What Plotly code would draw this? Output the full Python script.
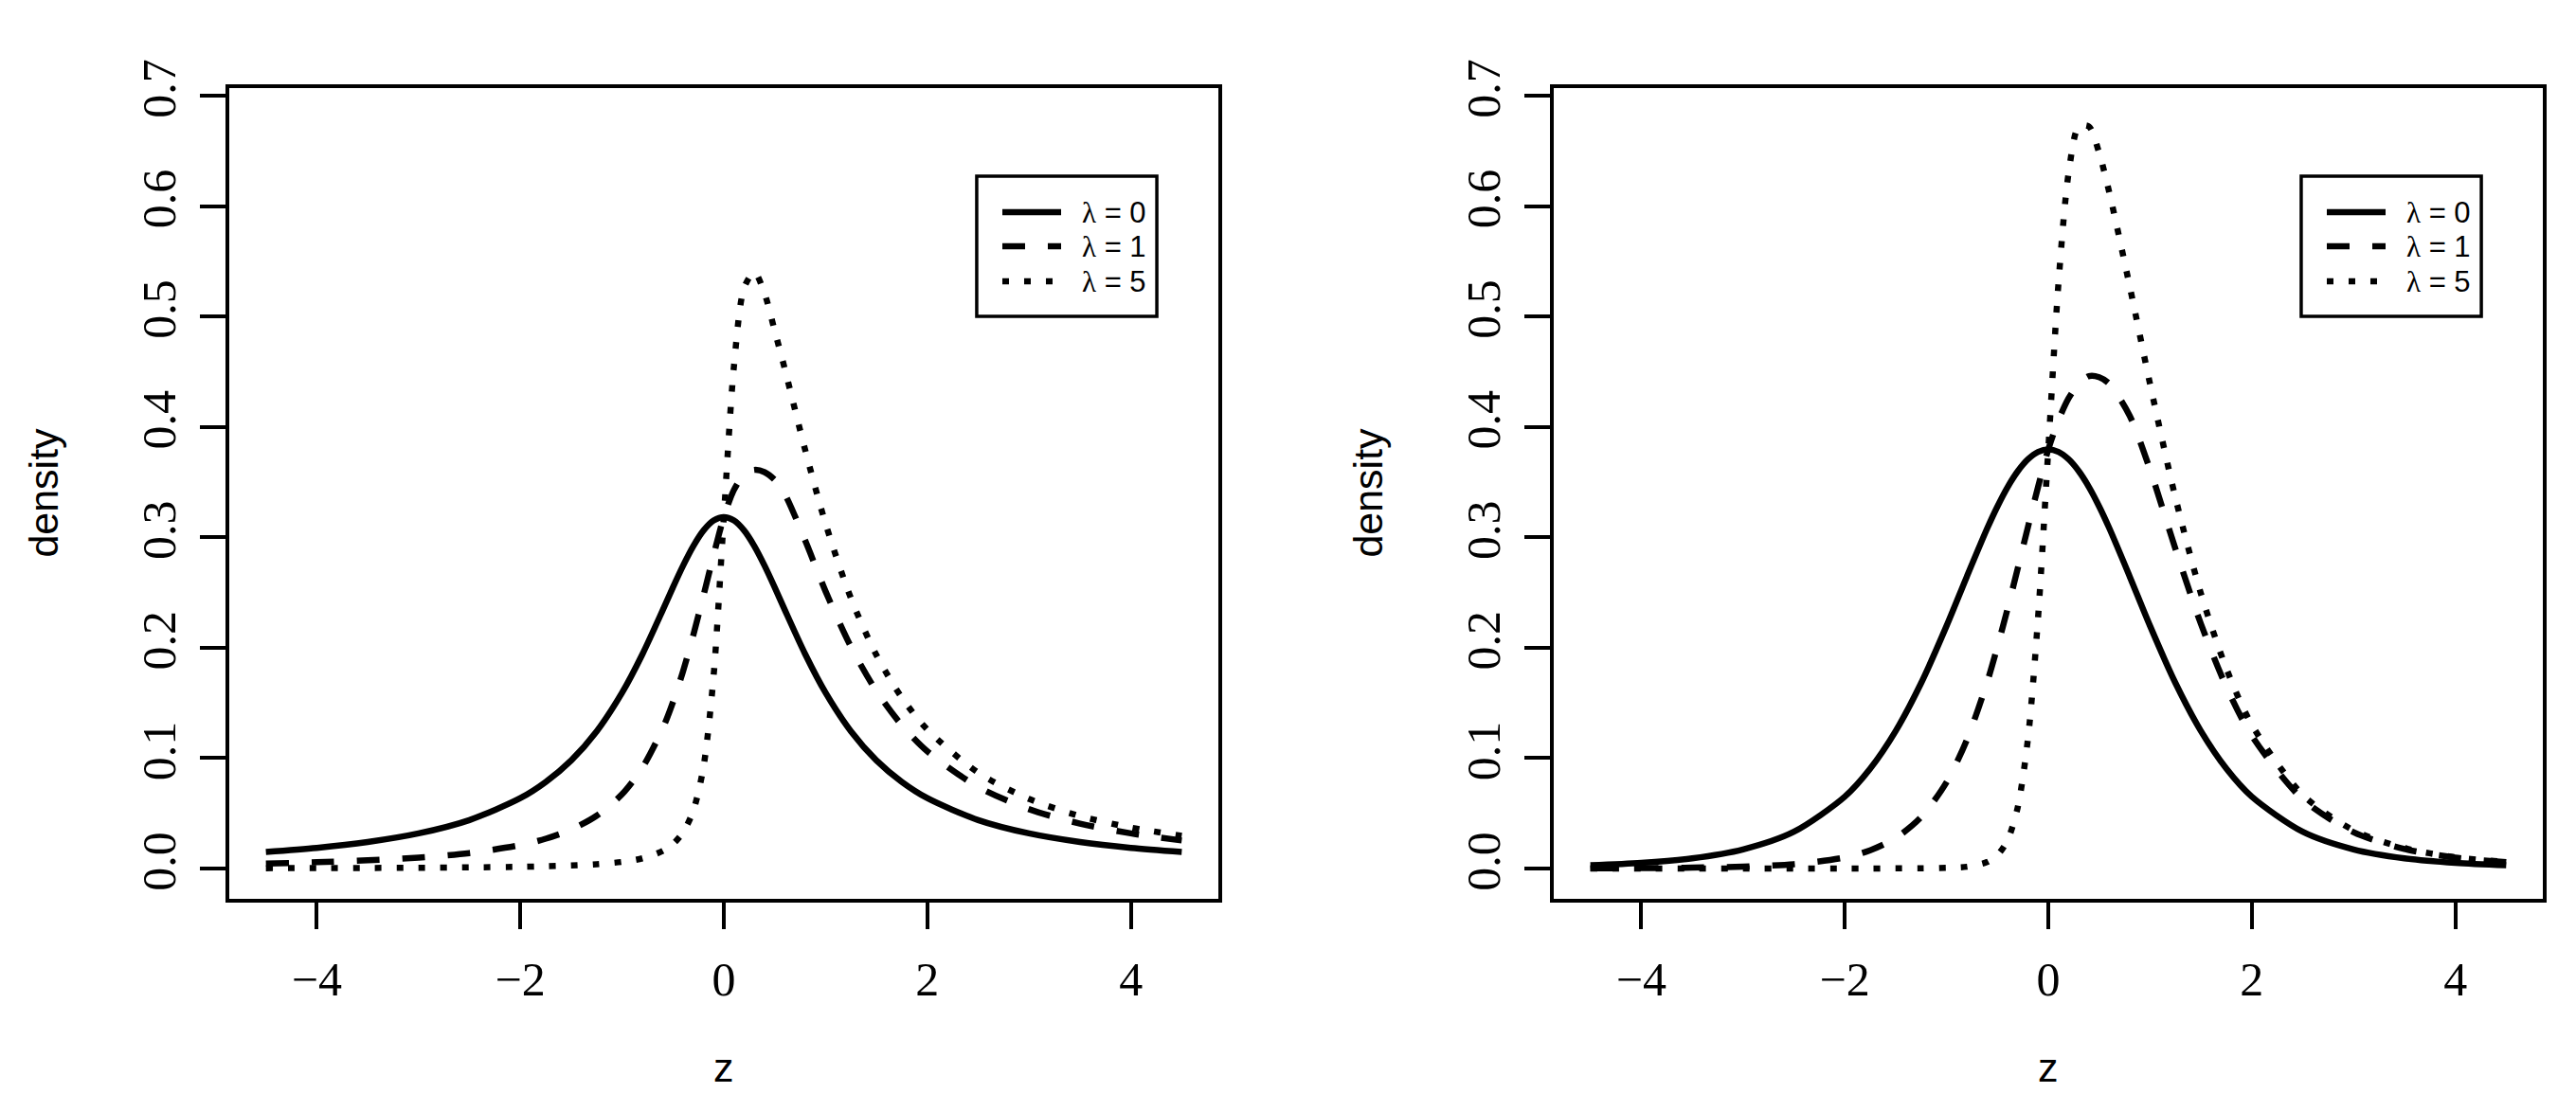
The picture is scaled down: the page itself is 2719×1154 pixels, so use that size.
import plotly.graph_objects as go

# ---------------- data ----------------
z = [-4.5, -4, -3.5, -3, -2.5, -2, -1.75, -1.5, -1.25, -1, -0.8, -0.6, -0.5, -0.4,
     -0.3, -0.2, -0.1, 0, 0.1, 0.2, 0.3, 0.4, 0.5, 0.6, 0.8, 1, 1.25, 1.5, 1.75,
     2, 2.5, 3, 3.5, 4, 4.5]

# left panel
left_l0 = [0.0150, 0.0187, 0.0240, 0.0318, 0.0439, 0.0637, 0.0784, 0.0979, 0.1242,
           0.1592, 0.1941, 0.2341, 0.2547, 0.2744, 0.2920, 0.3061, 0.3152, 0.3183,
           0.3152, 0.3061, 0.2920, 0.2744, 0.2547, 0.2341, 0.1941, 0.1592, 0.1242,
           0.0979, 0.0784, 0.0637, 0.0439, 0.0318, 0.0240, 0.0187, 0.0150]
left_l1 = [0.0045, 0.0057, 0.0074, 0.0099, 0.0140, 0.0212, 0.0270, 0.0353, 0.0478,
           0.0673, 0.0913, 0.1270, 0.1507, 0.1789, 0.2114, 0.2472, 0.2840, 0.3183,
           0.3430, 0.3570, 0.3610, 0.3590, 0.3520, 0.3390, 0.2969, 0.2510, 0.2007,
           0.1606, 0.1297, 0.1061, 0.0738, 0.0537, 0.0407, 0.0318, 0.0254]
left_l5 = [0.0003, 0.0004, 0.0005, 0.0007, 0.0010, 0.0015, 0.0020, 0.0027, 0.0039,
           0.0060, 0.0092, 0.0159, 0.0222, 0.0328, 0.0524, 0.0918, 0.1748, 0.3183,
           0.4555, 0.5260, 0.5400, 0.5210, 0.4871, 0.4522, 0.3789, 0.3123, 0.2446,
           0.1932, 0.1547, 0.1258, 0.0868, 0.0630, 0.0475, 0.0371, 0.0297]

# right panel
right_l0 = [0.0029, 0.0051, 0.0092, 0.0173, 0.0333, 0.0651, 0.0905, 0.1245, 0.1679,
            0.2197, 0.2645, 0.3081, 0.3279, 0.3454, 0.3598, 0.3706, 0.3773, 0.3796,
            0.3773, 0.3706, 0.3598, 0.3454, 0.3279, 0.3081, 0.2645, 0.2197, 0.1679,
            0.1245, 0.0905, 0.0651, 0.0333, 0.0173, 0.0092, 0.0051, 0.0029]
right_l1 = [0.0002, 0.0004, 0.0008, 0.0017, 0.0039, 0.0100, 0.0165, 0.0276, 0.0465,
            0.0782, 0.1166, 0.1691, 0.2008, 0.2353, 0.2719, 0.3093, 0.3458, 0.3796,
            0.4060, 0.4260, 0.4390, 0.4460, 0.4450, 0.4390, 0.4100, 0.3612, 0.2893,
            0.2215, 0.1646, 0.1202, 0.0627, 0.0329, 0.0177, 0.0099, 0.0057]
right_l5 = [0.0, 0.0, 0.0, 0.0, 0.0, 0.0, 0.0, 0.0001, 0.0002, 0.0006, 0.0016,
            0.0059, 0.0121, 0.0257, 0.0556, 0.1175, 0.2279, 0.3796, 0.5300, 0.6300,
            0.6720, 0.6720, 0.6480, 0.6120, 0.5274, 0.4388, 0.3356, 0.2490, 0.1811,
            0.1302, 0.0667, 0.0346, 0.0185, 0.0102, 0.0059]

legend_labels = ["0", "1", "5"]
x_ticks = [-4, -2, 0, 2, 4]
y_ticks = [0.0, 0.1, 0.2, 0.3, 0.4, 0.5, 0.6, 0.7]
y_tick_text = ["0.0", "0.1", "0.2", "0.3", "0.4", "0.5", "0.6", "0.7"]

# ---------------- layout geometry ----------------
W, H = 2719, 1154
BOX_TOP, BOX_BOT = 56, 935
LEFT_BOX = (234, 1278)
RIGHT_BOX = (1632, 2676)

LW = 6.5
DASHES = ["solid", "24px,24px", "7px,16px"]


def px_x(p):
    return p / W


def px_y(p):
    return 1 - p / H


fig = go.Figure()

panels = [
    ("x", "y", [left_l0, left_l1, left_l5]),
    ("x2", "y2", [right_l0, right_l1, right_l5]),
]
for xa, ya, series in panels:
    for vals, dash in zip(series, DASHES):
        fig.add_trace(go.Scatter(
            x=z, y=vals, xaxis=xa, yaxis=ya, mode="lines",
            line=dict(color="black", width=LW, dash=dash, shape="spline", smoothing=0.8),
            showlegend=False, hoverinfo="skip"))

tick_font = dict(family="Liberation Serif, Times New Roman, serif", size=50, color="black")
axis_common = dict(showgrid=False, zeroline=False, showline=True, mirror=True,
                   linecolor="black", linewidth=4, ticks="outside",
                   tickcolor="black", tickwidth=3.5, tickfont=tick_font)

xaxis_extra = dict(tickvals=x_ticks, ticklen=28, range=[-4.86, 4.86], ticklabelstandoff=10)
yaxis_extra = dict(tickvals=y_ticks, ticktext=y_tick_text, ticklen=27, tickangle=-90,
                   range=[-0.0272, 0.7072], ticklabelstandoff=6)

fig.update_layout(
    width=W, height=H, margin=dict(l=0, r=0, t=0, b=0),
    paper_bgcolor="white", plot_bgcolor="white",
    xaxis=dict(domain=[px_x(LEFT_BOX[0]), px_x(LEFT_BOX[1])], anchor="y",
               **xaxis_extra, **axis_common),
    yaxis=dict(domain=[px_y(BOX_BOT), px_y(BOX_TOP)], anchor="x",
               **yaxis_extra, **axis_common),
    xaxis2=dict(domain=[px_x(RIGHT_BOX[0]), px_x(RIGHT_BOX[1])], anchor="y2",
                **xaxis_extra, **axis_common),
    yaxis2=dict(domain=[px_y(BOX_BOT), px_y(BOX_TOP)], anchor="x2",
                **yaxis_extra, **axis_common),
)

title_font = dict(family="Liberation Sans, Arial, sans-serif", size=43, color="black")
shapes = []
annotations = []
for (bx0, bx1), xa, ya in [(LEFT_BOX, "x", "y"), (RIGHT_BOX, "x2", "y2")]:
    cx = (bx0 + bx1) / 2
    # axis titles
    annotations.append(dict(text="z", xref="paper", yref="paper", x=px_x(cx), y=px_y(1118),
                            xanchor="center", yanchor="middle", showarrow=False,
                            font=title_font))
    annotations.append(dict(text="density", xref="paper", yref="paper",
                            x=px_x(bx0 - 196), y=px_y((BOX_TOP + BOX_BOT) / 2),
                            xanchor="center", yanchor="middle", textangle=-90,
                            showarrow=False, font=title_font))
    # legend box
    xd, yd = f"{xa} domain", f"{ya} domain"
    shapes.append(dict(type="rect", xref=xd, yref=yd, x0=0.7557, x1=0.9378,
                       y0=0.7179, y1=0.8908, line=dict(color="black", width=3.5),
                       fillcolor="white"))
    rows = [0.8464, 0.8043, 0.7611]
    for ry, dash, lab in zip(rows, DASHES, legend_labels):
        shapes.append(dict(type="line", xref=xd, yref=yd, x0=0.7816, x1=0.8410,
                           y0=ry, y1=ry, line=dict(color="black", width=LW, dash=dash)))
        annotations.append(dict(
            text="<span style='font-family:Liberation Serif'>λ</span> = " + lab,
            xref=xd, yref=yd, x=0.8600, y=ry, xanchor="left", yanchor="middle",
            showarrow=False,
            font=dict(family="Liberation Sans, Arial, sans-serif", size=31, color="black")))

fig.update_layout(shapes=shapes, annotations=annotations)
fig.write_html("out.html")
